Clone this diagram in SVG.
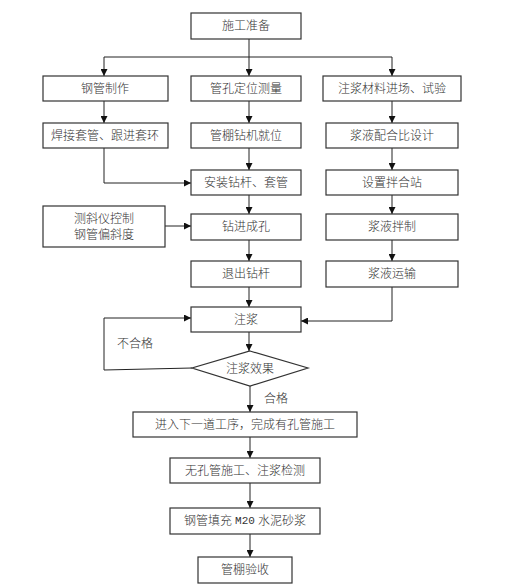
<svg xmlns="http://www.w3.org/2000/svg" width="509" height="587" viewBox="0 0 509 587">
<defs>
<marker id="ah" viewBox="0 0 10 10" refX="10" refY="5" markerWidth="7" markerHeight="7" markerUnits="userSpaceOnUse" orient="auto">
<path d="M0,0 L10,5 L0,10 Z" fill="#111"/>
</marker>
<style>
.box{fill:#fff;stroke:#333;stroke-width:1.2}
.t{font-family:"Liberation Serif","Noto Sans CJK SC",serif;font-size:12px;font-weight:300;fill:#333;text-anchor:middle;dominant-baseline:central}
.m{font-family:"Liberation Mono",monospace;font-size:11px}
.c{fill:none;stroke:#222;stroke-width:1}
</style>
</defs>
<rect width="509" height="587" fill="#fff"/>
<g id="connectors">
<path class="c" d="M249,39 V76" marker-end="url(#ah)"/>
<path class="c" d="M104,57 H392"/>
<path class="c" d="M104,57 V76" marker-end="url(#ah)"/>
<path class="c" d="M392,57 V76" marker-end="url(#ah)"/>
<path class="c" d="M104,101 V123" marker-end="url(#ah)"/>
<path class="c" d="M249,101 V123" marker-end="url(#ah)"/>
<path class="c" d="M392,101 V123" marker-end="url(#ah)"/>
<path class="c" d="M104,148 V183 H191" marker-end="url(#ah)"/>
<path class="c" d="M249,148 V170" marker-end="url(#ah)"/>
<path class="c" d="M392,148 V170" marker-end="url(#ah)"/>
<path class="c" d="M249,195 V214" marker-end="url(#ah)"/>
<path class="c" d="M392,195 V214" marker-end="url(#ah)"/>
<path class="c" d="M165,226 H191" marker-end="url(#ah)"/>
<path class="c" d="M249,240 V261" marker-end="url(#ah)"/>
<path class="c" d="M392,240 V261" marker-end="url(#ah)"/>
<path class="c" d="M249,287 V307" marker-end="url(#ah)"/>
<path class="c" d="M392,287 V321 H301" marker-end="url(#ah)"/>
<path class="c" d="M249,332 V351" marker-end="url(#ah)"/>
<path class="c" d="M192,368 L104,370 V318 H191" marker-end="url(#ah)"/>
<path class="c" d="M250,386 V412" marker-end="url(#ah)"/>
<path class="c" d="M250,437 V458" marker-end="url(#ah)"/>
<path class="c" d="M250,483 V508" marker-end="url(#ah)"/>
<path class="c" d="M250,534 V557" marker-end="url(#ah)"/>
<text class="t" x="135" y="344">不合格</text>
<text class="t" x="276" y="399">合格</text>
</g>
<g id="n1"><rect class="box" x="191" y="13" width="110" height="26"/><text class="t" x="246" y="26">施工准备</text></g>
<g id="n2"><rect class="box" x="43" y="76" width="125" height="25"/><text class="t" x="105" y="88.5">钢管制作</text></g>
<g id="n3"><rect class="box" x="191" y="76" width="110" height="25"/><text class="t" x="246" y="88.5">管孔定位测量</text></g>
<g id="n4"><rect class="box" x="323" y="76" width="138" height="25"/><text class="t" x="392" y="88.5">注浆材料进场、试验</text></g>
<g id="n5"><rect class="box" x="43" y="123" width="125" height="25"/><text class="t" x="105" y="135.5">焊接套管、跟进套环</text></g>
<g id="n6"><rect class="box" x="191" y="123" width="110" height="25"/><text class="t" x="246" y="135.5">管棚钻机就位</text></g>
<g id="n7"><rect class="box" x="326" y="123" width="132" height="25"/><text class="t" x="392" y="135.5">浆液配合比设计</text></g>
<g id="n8"><rect class="box" x="191" y="170" width="110" height="25"/><text class="t" x="246" y="182.5">安装钻杆、套管</text></g>
<g id="n9"><rect class="box" x="326" y="170" width="132" height="25"/><text class="t" x="392" y="182.5">设置拌合站</text></g>
<g id="n10"><rect class="box" x="43" y="206" width="122" height="41"/><text class="t" x="104" y="219">测斜仪控制</text><text class="t" x="104" y="235">钢管偏斜度</text></g>
<g id="n11"><rect class="box" x="191" y="214" width="110" height="26"/><text class="t" x="246" y="227">钻进成孔</text></g>
<g id="n12"><rect class="box" x="326" y="214" width="132" height="26"/><text class="t" x="392" y="227">浆液拌制</text></g>
<g id="n13"><rect class="box" x="191" y="261" width="110" height="26"/><text class="t" x="246" y="274">退出钻杆</text></g>
<g id="n14"><rect class="box" x="326" y="261" width="132" height="26"/><text class="t" x="392" y="274">浆液运输</text></g>
<g id="n15"><rect class="box" x="191" y="307" width="110" height="25"/><text class="t" x="246" y="319.5">注浆</text></g>
<g id="n16"><polygon class="box" points="250,351 308,368 250,386 192,368"/><text class="t" x="250" y="368.5">注浆效果</text></g>
<g id="n17"><rect class="box" x="133" y="412" width="224" height="25"/><text class="t" x="245" y="424.5">进入下一道工序，完成有孔管施工</text></g>
<g id="n18"><rect class="box" x="170" y="458" width="150" height="25"/><text class="t" x="245" y="470.5">无孔管施工、注浆检测</text></g>
<g id="n19"><rect class="box" x="170" y="508" width="150" height="26"/><text class="t" x="245" y="521">钢管填充 <tspan class="m">M20</tspan> 水泥砂浆</text></g>
<g id="n20"><rect class="box" x="198" y="557" width="94" height="26"/><text class="t" x="245" y="570">管棚验收</text></g>
</svg>
